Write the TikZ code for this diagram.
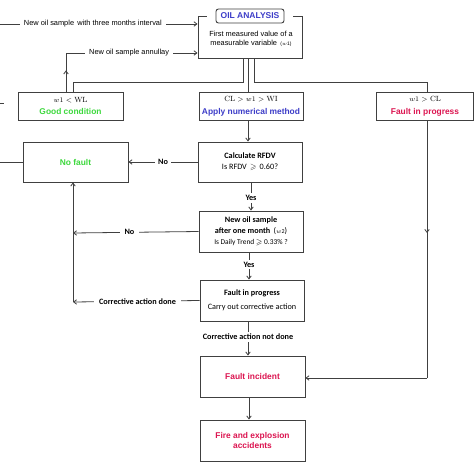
\documentclass[tikz,border=0pt]{standalone}
\usepackage{amssymb}
\usepackage{fontspec}
\newfontfamily\arialf{Liberation Sans}
\newfontfamily\calibf{Carlito}
\usetikzlibrary{arrows.meta,calc}
\definecolor{linec}{HTML}{404040}
\definecolor{gcol}{HTML}{3CD83C}
\definecolor{bcol}{HTML}{3C3CC8}
\definecolor{rcol}{HTML}{DC1450}
\tikzset{
  box/.style={draw=linec, line width=0.9pt, inner sep=0pt, align=center},
  conn/.style={draw=linec, line width=0.8pt},
  arr/.style={conn, -{Straight Barb[length=3pt,width=4.5pt]}},
  lbl/.style={fill=white, inner sep=3pt, font=\calibf\fontsize{8.2}{9}\selectfont\bfseries},
  lbla/.style={fill=white, inner sep=4pt, font=\arialf\fontsize{7.4}{8.5}\selectfont},
  ctext/.style={font=\arialf\fontsize{8.4}{10}\selectfont\bfseries},
}
\begin{document}
\begin{tikzpicture}[x=1pt,y=-1pt]
\useasboundingbox[fill=white] (0,0) rectangle (474,474);
% boxes
\node[box, minimum width=104pt, minimum height=42pt] (oil) at (250,37) {};
\fill[white] (207,13) rectangle (293,19);
\node[draw=linec, line width=0.9pt, rounded corners=2.5pt, fill=white, minimum width=68pt, minimum height=14pt, inner sep=0pt,
  font=\arialf\fontsize{8.5}{9}\selectfont\bfseries, text=bcol] (title) at (250,16) {OIL ANALYSIS};
\node[align=center, font=\arialf\fontsize{7.4}{9}\selectfont, inner sep=0pt] (oiltxt) at (251,38.5)
  {First measured value of a\\measurable variable \,{\fontsize{5}{5}\selectfont ($w$1)}};

\node[box, minimum width=105pt, minimum height=28pt] (good) at (70.5,106)
  {{\fontsize{7.5}{8}\selectfont $w1 < \mathrm{WL}$}\\[0.5pt]{\arialf\fontsize{8.4}{10}\selectfont\bfseries\color{gcol}Good condition}};
\node[box, minimum width=104pt, minimum height=28pt] (apply) at (251,106)
  {{\fontsize{7.5}{8}\selectfont $\mathrm{CL} > w1 > \mathrm{WI}$}\\[0.5pt]{\arialf\fontsize{8.4}{10}\selectfont\bfseries\color{bcol}Apply numerical method}};
\node[box, minimum width=97.5pt, minimum height=28pt] (faultp) at (425,106)
  {{\fontsize{7.5}{8}\selectfont $w1 > \mathrm{CL}$}\\[0.5pt]{\arialf\fontsize{8.4}{10}\selectfont\bfseries\color{rcol}Fault in progress}};

\node[box, minimum width=105pt, minimum height=40pt, ctext, text=gcol] (nofault) at (75.5,162) {No fault};
\node[box, minimum width=104pt, minimum height=40pt, font=\calibf\fontsize{8.2}{11}\selectfont] (calc) at (250,162)
  {\textbf{Calculate RFDV}\\Is RFDV \,$\geqslant$\, 0.60?};

\node[box, minimum width=104pt, minimum height=41pt, font=\calibf\fontsize{8.2}{10.5}\selectfont] (newoil) at (251,231.5)
  {\textbf{New oil sample}\\\textbf{after one month} \,({\fontsize{6}{6}\selectfont$w$2})\\[1pt]{\fontsize{7.4}{8}\selectfont Is Daily Trend $\geqslant$ 0.33\% ?}};

\node[box, minimum width=104pt, minimum height=41pt, font=\calibf\fontsize{8.2}{14}\selectfont] (fip) at (252,300.5)
  {\textbf{Fault in progress}\\Carry out corrective action};

\node[box, minimum width=105pt, minimum height=41pt, ctext, text=rcol] (incident) at (252.5,376.5) {Fault incident};
\node[box, minimum width=105pt, minimum height=41pt, ctext, text=rcol] (fire) at (252.5,440.5) {Fire and explosion\\accidents};

% coordinates
\coordinate (in3) at (0,24);
\coordinate (ann) at (66,53);
\coordinate (lt) at (0,162);
\coordinate (tick) at (0,103);
\coordinate (vleft) at (73,302);
\coordinate (rc) at (427,378);

% connectors
\draw[arr] (in3) -- node[lbla, pos=0.47] {New oil sample\, with three months interval} (oil.west |- in3);
\draw[conn] (good.north -| ann) -- (ann);
\draw[arr] (good.north -| ann) -- ($(good.north -| ann)!0.55!(ann)$);
\draw[arr] (ann) -- node[lbla, pos=0.48] {New oil sample annullay} (oil.west |- ann);
\draw[conn] (oil.south -| 243,0) |- (73,82) -- (good.north -| 73,0);
\draw[conn] (oil.south -| 248,0) -- (apply.north -| 248,0);
\draw[conn] (oil.south -| 254,0) |- (427,82) -- (faultp.north -| 427,0);
\draw[conn] (tick) -- ++(4,0);
\draw[conn] (lt) -- (nofault.west);

\draw[arr] (apply.south -| 248,0) -- (calc.north -| 248,0);
\draw[arr] (calc.west) -- node[lbl, pos=0.5] {No} (nofault.east);
\draw[arr] (calc.south -| 251,0) -- node[lbl, pos=0.55, inner sep=2pt] {Yes} (newoil.north -| 251,0);
\draw[arr] (newoil.west) -- node[lbl, pos=0.55, inner sep=5pt] {No} (73,233);
\draw[arr] (newoil.south -| 249,0) -- node[lbl, pos=0.45, inner sep=2pt] {Yes} (fip.north -| 249,0);
\draw[arr] (fip.west) -- node[lbl, pos=0.49, inner sep=5pt] {Corrective action done} (vleft);
\draw[arr] (vleft) -- (nofault.south -| vleft);
\draw[arr] (fip.south -| 248,0) -- node[lbl, pos=0.45, inner sep=2pt] {Corrective action not done} (incident.north -| 248,0);
\draw[conn] (faultp.south -| 427,0) -- (rc);
\draw[arr] (faultp.south -| 427,0) -- (427,233);
\draw[arr] (rc) -- (incident.east |- rc);
\draw[arr] (incident.south -| 249,0) -- (fire.north -| 249,0);
\end{tikzpicture}
\end{document}
